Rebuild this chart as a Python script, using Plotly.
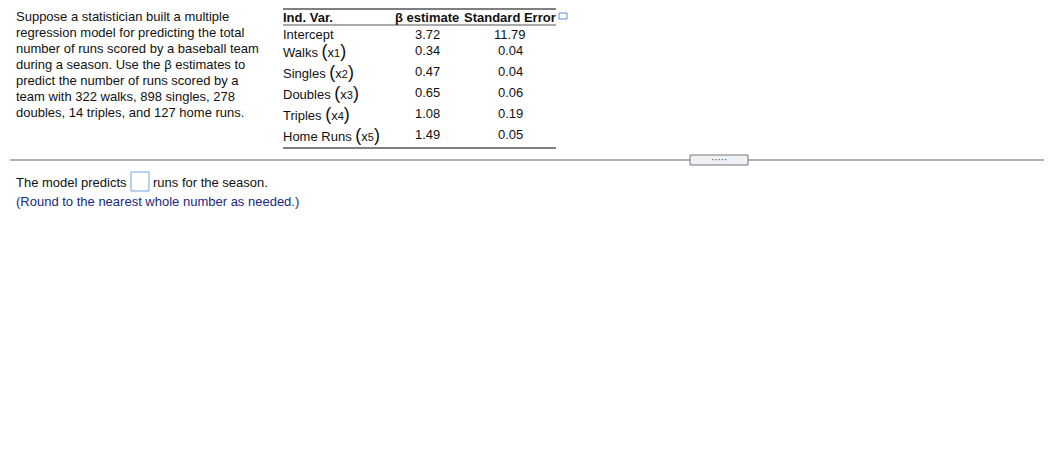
import plotly.graph_objects as go

intro_lines = [
    "Suppose a statistician built a multiple",
    "regression model for predicting the total",
    "number of runs scored by a baseball team",
    "during a season. Use the \u03b2 estimates to",
    "predict the number of runs scored by a",
    "team with 322 walks, 898 singles, 278",
    "doubles, 14 triples, and 127 home runs.",
]
var_names = ["Intercept", "Walks", "Singles", "Doubles", "Triples", "Home Runs"]
var_subs = [None, 1, 2, 3, 4, 5]
beta = ["3.72", "0.34", "0.47", "0.65", "1.08", "1.49"]
std_err = ["11.79", "0.04", "0.04", "0.06", "0.19", "0.05"]
row_y = [34, 50, 71, 92, 113, 134]

FONT = "Liberation Sans, Arial, sans-serif"
ann = []


def txt(x, y, s, anchor="left", size=13, color="#111", bold=False):
    if bold:
        s = "<b>" + s + "</b>"
    ann.append(dict(x=x, y=y, xref="x", yref="y", text=s, showarrow=False,
                    xanchor=anchor, yanchor="middle",
                    font=dict(family=FONT, size=size, color=color)))


for i, line in enumerate(intro_lines):
    txt(14, 16 + i * 16, line)

txt(281, 17, "Ind. Var.", bold=True)
txt(427, 17, "\u03b2 estimate", "center", bold=True)
txt(510, 17, "Standard Error", "center", bold=True)
for name, sub, b, se, y in zip(var_names, var_subs, beta, std_err, row_y):
    if sub is None:
        txt(281, y, name)
    else:
        txt(281, y + 1, name + " <span style='font-size:18px'>(</span>x"
            "<span style='font-size:11px'>%d</span>"
            "<span style='font-size:18px'>)</span>" % sub)
    txt(427, y, b, "center")
    txt(510, y, se, "center")

txt(14, 182, "The model predicts")
txt(151, 182, "runs for the season.")
txt(14, 201, "(Round to the nearest whole number as needed.)", color="#1a2a80")

shapes = [
    dict(type="line", x0=283, x1=556, y0=9, y1=9, line=dict(color="#555", width=1.5)),
    dict(type="line", x0=283, x1=556, y0=25, y1=25, line=dict(color="#555", width=1)),
    dict(type="line", x0=283, x1=556, y0=148, y1=148, line=dict(color="#555", width=1.5)),
    dict(type="line", x0=10, x1=1060, y0=160, y1=160, line=dict(color="#999", width=1.5)),
    dict(type="rect", x0=690, x1=748, y0=155, y1=165, fillcolor="#eef2f7",
         line=dict(color="#777", width=1)),
    dict(type="rect", x0=131, x1=149, y0=172, y1=191, fillcolor="white",
         line=dict(color="#6fa8dc", width=1)),
    dict(type="rect", x0=559, x1=567, y0=13, y1=19, fillcolor="white",
         line=dict(color="#5b8fd6", width=1)),
]
ann.append(dict(x=719, y=160, xref="x", yref="y", text="\u2022 \u2022 \u2022 \u2022 \u2022",
                showarrow=False, font=dict(size=5, color="#333")))

fig = go.Figure()
fig.update_layout(
    width=1052, height=470, margin=dict(l=0, r=0, t=0, b=0),
    plot_bgcolor="white", paper_bgcolor="white",
    xaxis=dict(range=[8, 1060], visible=False),
    yaxis=dict(range=[478, 8], visible=False),
    annotations=ann, shapes=shapes, showlegend=False,
)
fig.write_html("out.html")
